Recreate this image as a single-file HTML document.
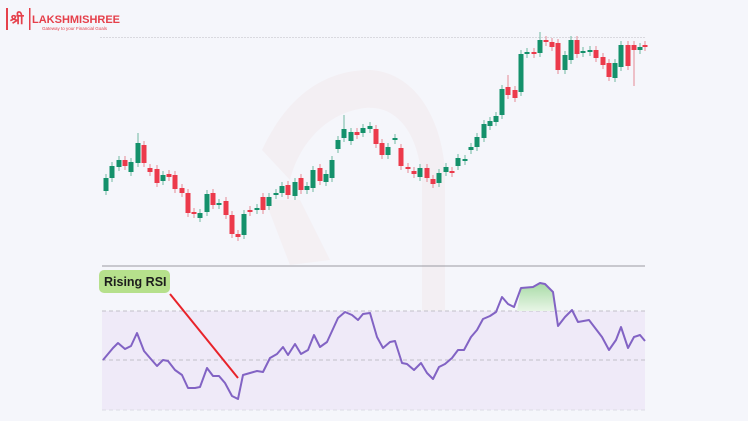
<!DOCTYPE html>
<html><head><meta charset="utf-8"><style>
html,body{margin:0;padding:0;background:#f5f6fb;}
svg{display:block;font-family:"Liberation Sans",sans-serif;}
</style></head><body>
<svg id="s" width="748" height="421" viewBox="0 0 748 421">
<rect width="748" height="421" fill="#f5f6fb"/>
<!-- watermark -->
<path d="M262 150 C290 90 330 70 370 70 C410 72 440 110 445 170 L445 320 L422 320 L422 180 C418 130 395 105 365 108 C330 112 300 140 290 180 Z" fill="#f3eff3"/>
<path d="M265 200 L300 200 L330 260 L290 265 Z" fill="#f4f0f3"/>
<!-- logo -->
<rect x="6" y="8" width="2" height="22" fill="#e5404b"/>
<text x="10" y="24" font-size="14" fill="#e5404b" font-weight="bold" font-family="'Liberation Sans','Noto Sans CJK SC',sans-serif">श्री</text>
<rect x="29" y="8" width="1.5" height="22" fill="#e5404b"/>
<text x="32" y="23" font-size="11" fill="#e5404b" font-weight="bold">LAKSHMISHREE</text>
<text x="42" y="30" font-size="4.5" fill="#e5404b">Gateway to your Financial Goals</text>
<line x1="100" y1="37.5" x2="645" y2="37.5" stroke="#cfcfd6" stroke-width="0.8" stroke-dasharray="2,1"/>
<!-- separator -->
<line x1="102" y1="266" x2="645" y2="266" stroke="#9a9aa2" stroke-width="1"/>
<!-- RSI band -->
<rect x="102" y="311" width="543" height="99" fill="#efeaf8"/>
<line x1="102" y1="311" x2="645" y2="311" stroke="#c2c0c8" stroke-dasharray="4,3"/>
<line x1="102" y1="360" x2="645" y2="360" stroke="#c2c0c8" stroke-dasharray="4,3"/>
<line x1="102" y1="410" x2="645" y2="410" stroke="#dcdce4" stroke-dasharray="4,3"/>
<defs><linearGradient id="g" x1="0" y1="0" x2="0" y2="1"><stop offset="0" stop-color="#a8dba6"/><stop offset="1" stop-color="#e8f5e6"/></linearGradient></defs>
<path d="M517 311 L521 288 L533 287 L540 283 L545 284 L553 292 L556 311 Z" fill="url(#g)"/>
<g id="c"></g>
<polyline fill="none" stroke="#8263c4" stroke-width="2" stroke-linejoin="round" points="103,360 113,348 118,343 125,349 131,346 137,333 144,351 150,358 157,366 163,360 168,361 175,370 182,375 188,388 195,388 200,387 207,368 213,376 219,376 225,383 232,396 238,399 243,375 250,373 257,371 263,372 270,358 277,354 283,347 288,355 295,344 301,354 308,350 314,335 320,347 327,342 338,318 345,312 352,315 358,320 363,314 370,313 377,337 383,348 390,342 395,341 402,363 407,364 414,370 421,363 427,373 433,379 439,367 445,364 452,358 458,350 464,350 471,337 477,330 483,319 490,316 496,312 502,297 508,304 514,307 521,288 533,287 540,283 545,284 553,292 558,326 565,317 572,310 578,322 589,320 602,337 609,350 616,340 621,327 628,348 634,337 640,335 645,341"/>
<line x1="170" y1="294" x2="238" y2="378" stroke="#e8232a" stroke-width="2"/>
<rect x="99" y="270" width="71" height="23" rx="5" fill="#b6e08c"/>
<text x="104" y="286" font-size="12.5" font-weight="bold" fill="#1d1d1d">Rising RSI</text>
</svg>
<script>
var d=[[106,'g',178,191],[112,'g',166,178],[119,'g',160,167],[125,'r',160,166],[131,'g',162,172],[138,'g',143,163],[144,'r',145,163],[150,'r',168,172],[157,'r',169,183],[163,'g',175,181],[169,'r',174,177],[175,'r',175,189],[182,'r',188,193],[188,'r',193,213],[194,'r',212,214],[200,'g',213,218],[207,'g',194,212],[213,'r',193,205],[219,'g',203,205],[226,'r',201,215],[232,'r',215,234],[238,'r',234,237],[244,'g',214,235],[250,'r',210,212],[257,'g',208,210],[263,'r',197,210],[269,'g',197,206],[276,'g',193,195],[282,'g',186,193],[288,'r',185,195],[295,'g',182,196],[301,'r',178,190],[307,'g',186,190],[313,'g',170,188],[320,'r',168,181],[326,'g',174,182],[332,'g',160,178],[338,'g',140,149],[344,'g',129,138],[351,'g',132,141],[357,'r',132,135],[363,'g',128,133],[370,'g',126,129],[376,'r',129,144],[382,'r',143,155],[388,'g',147,155],[395,'g',138,140],[401,'r',148,166],[408,'r',167,169],[414,'r',171,174],[420,'g',168,177],[427,'r',168,178],[433,'r',179,184],[439,'g',173,183],[446,'g',167,172],[452,'r',171,173],[458,'g',158,166],[465,'g',159,161],[471,'g',147,150],[477,'g',137,147],[484,'g',124,138],[490,'g',121,126],[496,'g',116,122],[502,'g',89,115],[508,'r',87,95],[515,'r',90,98],[521,'g',54,92],[527,'g',52,54],[534,'r',52,54],[540,'g',40,53],[546,'r',40,42],[552,'r',42,47],[558,'r',43,70],[565,'g',55,70],[571,'g',40,60],[577,'r',40,54],[583,'g',51,53],[590,'g',50,52],[596,'r',50,58],[603,'r',57,65],[609,'r',63,77],[615,'g',63,78],[621,'g',45,67],[628,'r',45,66],[634,'r',45,50],[640,'g',47,50],[645,'r',45,47]];
var ex={138:6,344:10,634:30,540:4,508:8};
var h='';d.forEach(function(c){var col=c[1]=='g'?'#14916b':'#ec3a4b';var wc=c[1]=='g'?'#6fb8a0':'#e58a94';var lo=c[3]+4+(c[0]==634?32:0),hi=c[2]-4-(ex[c[0]]&&c[0]!=634?ex[c[0]]:0);
h+='<line x1="'+c[0]+'" y1="'+hi+'" x2="'+c[0]+'" y2="'+lo+'" stroke="'+wc+'" stroke-width="1"/>';
h+='<rect x="'+(c[0]-2.5)+'" y="'+c[2]+'" width="5" height="'+Math.max(1.5,c[3]-c[2])+'" fill="'+col+'"/>';});
document.getElementById('c').innerHTML=h;
</script>
</body></html>
